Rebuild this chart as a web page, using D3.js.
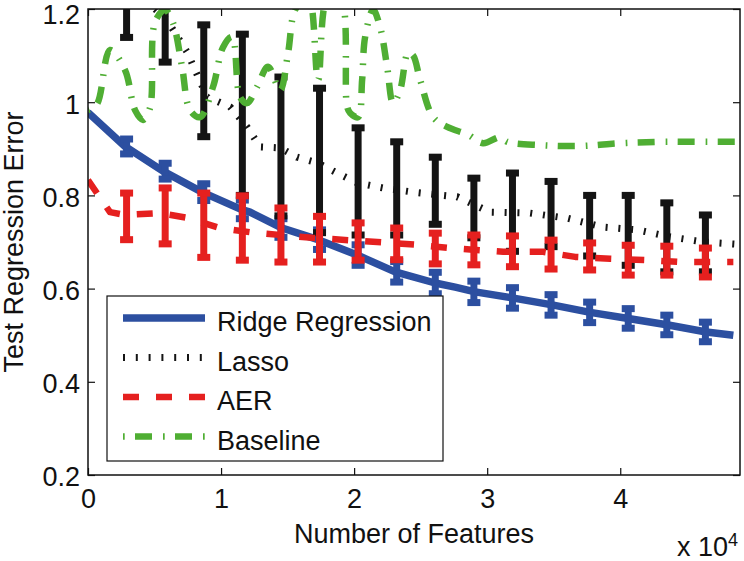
<!DOCTYPE html>
<html>
<head>
<meta charset="utf-8">
<script src="https://cdn.jsdelivr.net/npm/d3@7"></script>
<style>
  body { margin: 0; background: #fff; }
  svg text { font-family: "Liberation Sans", Arial, Helvetica, sans-serif; fill: #111; }
</style>
</head>
<body>
<script>
// x values are number of features
const barX = [2900, 5800, 8700, 11600, 14500, 17400, 20300, 23200, 26100, 29000, 31900, 34800, 37700, 40600, 43500, 46400];

// Ridge Regression
const ridgeX = [0, 2782, 5639, 8571, 11504, 12180, 14586, 17293, 20226, 23083, 26090, 27590, 29098, 31880, 34887, 37744, 40602, 43609, 46466, 48500];
const ridgeY = [0.978, 0.905, 0.852, 0.807, 0.770, 0.764, 0.730, 0.705, 0.672, 0.636, 0.612, 0.603, 0.593, 0.580, 0.565, 0.549, 0.536, 0.522, 0.507, 0.500];
const ridgeMean = [0.905, 0.852, 0.807, 0.770, 0.730, 0.705, 0.672, 0.636, 0.612, 0.593, 0.580, 0.565, 0.549, 0.536, 0.522, 0.507];
const ridgeErr = [0.016, 0.017, 0.018, 0.020, 0.020, 0.021, 0.022, 0.022, 0.023, 0.023, 0.022, 0.022, 0.022, 0.021, 0.021, 0.021];

// Lasso
const lassoX = [0, 2780, 4660, 5940, 7440, 8950, 10680, 11950, 12930, 14440, 15710, 17220, 18720, 20230, 22180, 24440, 26690, 27740, 30230, 33230, 36020, 38720, 41280, 43760, 46240, 48870];
const lassoY = [1.40, 1.28, 1.21, 1.176, 1.108, 1.011, 0.990, 0.947, 0.904, 0.902, 0.882, 0.870, 0.848, 0.827, 0.816, 0.807, 0.800, 0.797, 0.764, 0.762, 0.751, 0.732, 0.726, 0.711, 0.700, 0.695];
const lassoMean = [1.280, 1.210, 1.046, 0.973, 0.905, 0.875, 0.830, 0.815, 0.810, 0.773, 0.764, 0.760, 0.735, 0.725, 0.710, 0.697];
const lassoErr = [0.141, 0.124, 0.120, 0.173, 0.149, 0.155, 0.115, 0.100, 0.072, 0.064, 0.084, 0.070, 0.065, 0.075, 0.074, 0.061];

// AER
const aerX = [0, 1654, 2782, 5414, 7444, 9925, 12180, 16842, 21729, 24737, 27218, 31203, 34211, 36617, 39248, 42030, 44511, 48500];
const aerY = [0.833, 0.764, 0.758, 0.762, 0.752, 0.730, 0.721, 0.709, 0.700, 0.694, 0.687, 0.679, 0.679, 0.668, 0.664, 0.661, 0.657, 0.657];
const aerMean = [0.755, 0.756, 0.736, 0.730, 0.715, 0.706, 0.701, 0.696, 0.686, 0.683, 0.680, 0.673, 0.669, 0.661, 0.660, 0.656];
const aerErr = [0.050, 0.060, 0.069, 0.069, 0.058, 0.049, 0.040, 0.034, 0.033, 0.032, 0.033, 0.031, 0.029, 0.032, 0.031, 0.031];

// Baseline
const baseX = [0, 677, 1654, 2782, 3534, 4135, 4662, 5038, 5789, 6391, 7068, 7669, 8421, 9398, 10150, 10827, 11429, 11955, 12707, 13534, 14436, 15038, 15564, 16541, 17293, 18045, 18947, 19474, 19699, 20301, 20602, 20827, 21429, 21955, 22481, 22932, 23459, 24060, 24436, 24962, 25940, 26992, 28571, 29699, 30977, 31504, 33985, 36992, 40000, 43008, 46015, 49000];
const baseY = [0.983, 0.996, 1.112, 1.069, 0.983, 0.962, 0.988, 1.172, 1.198, 1.170, 1.076, 0.983, 0.968, 1.033, 1.118, 1.140, 1.011, 0.998, 1.033, 1.076, 1.026, 1.106, 1.198, 1.230, 1.048, 1.230, 1.230, 0.990, 0.977, 0.968, 1.048, 1.140, 1.198, 1.161, 1.076, 0.998, 1.026, 1.106, 1.100, 1.048, 0.968, 0.947, 0.930, 0.912, 0.925, 0.915, 0.908, 0.906, 0.912, 0.915, 0.915, 0.915];

const xTicks = [0, 10000, 20000, 30000, 40000];
const yTicks = [0.2, 0.4, 0.6, 0.8, 1.0, 1.2];
const legendNames = ["Ridge Regression", "Lasso", "AER", "Baseline"];

const width = 744;
const height = 561;
const margin = { left: 88, top: 9, right: 4, bottom: 86 };
const plotW = width - margin.left - margin.right;
const plotH = height - margin.top - margin.bottom;

const colors = { ridge: "#2c4fa0", lasso: "#141414", aer: "#e5201f", base: "#4fae33" };

const svg = d3.select("body").append("svg")
  .attr("width", width)
  .attr("height", height);

svg.append("defs").append("clipPath").attr("id", "clip")
  .append("rect").attr("width", plotW).attr("height", plotH);

const g = svg.append("g").attr("transform", `translate(${margin.left},${margin.top})`);

const x = d3.scaleLinear().domain([0, 49000]).range([0, plotW]);
const y = d3.scaleLinear().domain([0.2, 1.2]).range([plotH, 0]);

// axes with inward ticks
const fmtY = (d) => (d === 1 ? "1" : d3.format(".1f")(d));

g.append("g").attr("transform", `translate(0,${plotH})`)
  .call(d3.axisBottom(x).tickValues(xTicks).tickSize(-7).tickPadding(14).tickFormat((d) => d / 10000))
  .call((a) => a.select(".domain").remove());
g.append("g")
  .call(d3.axisTop(x).tickValues(xTicks).tickSize(-7).tickFormat(""))
  .call((a) => a.select(".domain").remove());
g.append("g")
  .call(d3.axisLeft(y).tickValues(yTicks).tickSize(-7).tickPadding(8).tickFormat(fmtY))
  .call((a) => a.select(".domain").remove())
  // top label sits a little lower so it stays inside the page
  .call((a) => a.selectAll("text").attr("dy", (d) => (d === 1.2 ? "0.55em" : "0.4em")));
g.append("g").attr("transform", `translate(${plotW},0)`)
  .call(d3.axisRight(y).tickValues(yTicks).tickSize(-7).tickFormat(""))
  .call((a) => a.select(".domain").remove());

g.selectAll(".tick line").attr("stroke", "#111").attr("stroke-width", 1.2);
g.selectAll(".tick text").style("font-size", "27px").attr("fill", "#111");

const plot = g.append("g").attr("clip-path", "url(#clip)");

function drawLine(xs, ys, color, w, dash, curve) {
  const pts = xs.map((v, i) => [v, ys[i]]);
  plot.append("path")
    .datum(pts)
    .attr("fill", "none")
    .attr("stroke", color)
    .attr("stroke-width", w)
    .attr("stroke-linejoin", "round")
    .attr("stroke-dasharray", dash)
    .attr("d", d3.line().curve(curve || d3.curveLinear).x((d) => x(d[0])).y((d) => y(d[1])));
}

function drawBars(means, errs, color) {
  const data = barX.map((v, i) => ({ x: v, lo: means[i] - errs[i], hi: means[i] + errs[i] }));
  const bg = plot.append("g");
  bg.selectAll(".bar")
    .data(data)
    .enter()
    .append("line")
    .attr("x1", (d) => x(d.x))
    .attr("x2", (d) => x(d.x))
    .attr("y1", (d) => y(d.lo))
    .attr("y2", (d) => y(d.hi))
    .attr("stroke", color)
    .attr("stroke-width", 7);
  ["lo", "hi"].forEach((k) => {
    bg.selectAll(".cap-" + k)
      .data(data)
      .enter()
      .append("rect")
      .attr("x", (d) => x(d.x) - 6.5)
      .attr("y", (d) => y(d[k]) - 3.5)
      .attr("width", 13)
      .attr("height", 7)
      .attr("fill", color);
  });
}

const styles = [
  { c: colors.ridge, w: 7.5, dash: null },
  { c: colors.lasso, w: 7, dash: "2,10.8" },
  { c: colors.aer, w: 6.5, dash: "16,17" },
  { c: colors.base, w: 6.5, dash: "1.7,10.3,17,11" },
];

drawLine(ridgeX, ridgeY, styles[0].c, styles[0].w, styles[0].dash);
drawBars(ridgeMean, ridgeErr, colors.ridge);
drawLine(lassoX, lassoY, styles[1].c, styles[1].w, styles[1].dash);
drawBars(lassoMean, lassoErr, colors.lasso);
drawLine(aerX, aerY, styles[2].c, styles[2].w, styles[2].dash);
drawBars(aerMean, aerErr, colors.aer);
drawLine(baseX, baseY, styles[3].c, styles[3].w, styles[3].dash, d3.curveCatmullRom.alpha(0.5));

// box
g.append("rect")
  .attr("width", plotW).attr("height", plotH)
  .attr("fill", "none").attr("stroke", "#111").attr("stroke-width", 1.5);

// legend
const leg = svg.append("g").attr("transform", "translate(107,296)");
leg.append("rect")
  .attr("width", 336).attr("height", 165)
  .attr("fill", "#fff").attr("stroke", "#111").attr("stroke-width", 1.2);
legendNames.forEach((name, i) => {
  const ly = 22 + i * 39.5;
  leg.append("line")
    .attr("x1", 16).attr("x2", 98)
    .attr("y1", ly).attr("y2", ly)
    .attr("stroke", styles[i].c)
    .attr("stroke-width", styles[i].w)
    .attr("stroke-dasharray", styles[i].dash);
  leg.append("text")
    .attr("x", 110).attr("y", ly + 13)
    .style("font-size", "27px")
    .text(name);
});

// axis labels
svg.append("text")
  .attr("x", margin.left + plotW / 2).attr("y", 543)
  .attr("text-anchor", "middle")
  .style("font-size", "27px")
  .text("Number of Features");

svg.append("text")
  .attr("transform", `translate(23,${margin.top + plotH / 2}) rotate(-90)`)
  .attr("text-anchor", "middle")
  .style("font-size", "27px")
  .text("Test Regression Error");

const mult = svg.append("text").attr("x", 677).attr("y", 556).style("font-size", "27px");
mult.append("tspan").text("x 10");
mult.append("tspan").attr("dy", -10).style("font-size", "18px").text("4");
</script>
</body>
</html>
